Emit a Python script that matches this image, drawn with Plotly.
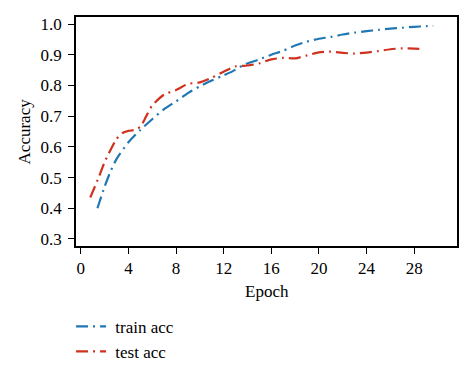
import plotly.graph_objects as go

train_epoch = [1.4, 2, 2.5, 3, 4, 5, 6, 7, 8, 9, 10, 11, 12, 12.7, 13.7, 15, 16, 17, 18, 19, 20,
               21, 22, 23, 24, 25, 26, 27, 28, 29, 29.6]
train_acc = [0.40, 0.47, 0.52, 0.56, 0.615, 0.655, 0.69, 0.723, 0.748, 0.775, 0.797, 0.816, 0.833,
             0.845, 0.867, 0.885, 0.90, 0.913, 0.93, 0.943, 0.952, 0.958, 0.966, 0.972, 0.977,
             0.981, 0.985, 0.988, 0.991, 0.993, 0.994]

test_epoch = [0.8, 1.5, 2, 2.5, 3, 3.5, 4, 4.5, 5, 5.5, 6, 7, 8, 9, 10, 11, 12, 13, 14, 15, 16,
              17, 18, 19, 20, 21, 22, 23, 24, 25, 26, 27, 28, 28.8]
test_acc = [0.435, 0.50, 0.55, 0.59, 0.625, 0.645, 0.652, 0.655, 0.665, 0.70, 0.735, 0.77, 0.785,
            0.805, 0.81, 0.825, 0.845, 0.862, 0.865, 0.872, 0.885, 0.89, 0.888, 0.898, 0.908,
            0.91, 0.906, 0.904, 0.907, 0.912, 0.918, 0.921, 0.92, 0.919]

x_ticks = [0, 4, 8, 12, 16, 20, 24, 28]
y_ticks = [0.3, 0.4, 0.5, 0.6, 0.7, 0.8, 0.9, 1.0]

FONT = "Liberation Serif"
dash = "12px,5px,2px,5px"

fig = go.Figure()
fig.add_trace(go.Scatter(x=train_epoch, y=train_acc, mode="lines", name=" train acc",
                         line=dict(color="#1f77b4", width=2.2, dash=dash, shape="spline", smoothing=0.6)))
fig.add_trace(go.Scatter(x=test_epoch, y=test_acc, mode="lines", name=" test acc",
                         line=dict(color="#d0321f", width=2.2, dash=dash, shape="spline", smoothing=0.6)))

axis_common = dict(showline=True, linecolor="black", linewidth=1.5, mirror=True,
                   ticks="outside", ticklen=6, tickwidth=1.3, tickcolor="black",
                   showgrid=False, zeroline=False, automargin=False,
                   tickfont=dict(family=FONT, size=17, color="black"))

fig.update_xaxes(range=[-0.4, 31.6], tickvals=x_ticks, ticktext=[str(v) for v in x_ticks],
                 ticklabelstandoff=0, **axis_common)
fig.update_yaxes(range=[0.277, 1.023], tickvals=y_ticks, ticktext=[f"{v:.1f}" for v in y_ticks],
                 ticklabelstandoff=3, **axis_common)

fig.add_annotation(text="Epoch", xref="paper", yref="paper", x=0.5, y=-0.197,
                   xanchor="center", yanchor="middle", showarrow=False,
                   font=dict(family=FONT, size=17, color="black"))
fig.add_annotation(text="Accuracy", xref="paper", yref="paper", x=-0.134, y=0.5,
                   xanchor="center", yanchor="middle", showarrow=False, textangle=-90,
                   font=dict(family=FONT, size=17, color="black"))

fig.update_layout(
    width=474, height=372,
    margin=dict(l=76, r=17, t=17, b=126, autoexpand=False),
    paper_bgcolor="white", plot_bgcolor="white",
    font=dict(family=FONT, size=17, color="black"),
    showlegend=True,
    legend=dict(x=-0.013, y=-0.274, xanchor="left", yanchor="top",
                font=dict(family=FONT, size=17, color="black"),
                bgcolor="rgba(0,0,0,0)", itemwidth=30, tracegroupgap=0),
)

fig.write_html(
    "out.html",
    config={"displayModeBar": False, "responsive": False},
    post_script="document.body.style.margin='0';document.body.style.overflow='hidden';",
)
